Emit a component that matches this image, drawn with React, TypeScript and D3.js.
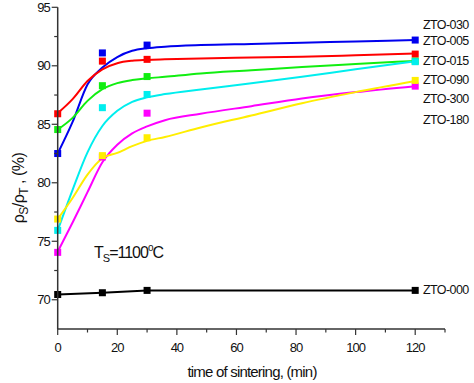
import React from "react"
import * as d3 from "d3"

const WIDTH = 474
const HEIGHT = 383

// sintering times of the measured samples (min)
const SAMPLE_TIMES = [0, 15, 30, 120]
// times at which the fitted curves are read
const FIT_TIMES = [0, 5, 10, 15, 20, 25, 30, 36, 48, 65, 82, 100, 120]

const SERIES_NAMES = ["ZTO-005", "ZTO-030", "ZTO-015", "ZTO-090", "ZTO-180", "ZTO-300"]
const SERIES_COLORS = ["#0000ee", "#ff0000", "#11ee11", "#00eeee", "#ff00ff", "#ffee00"]

// relative density ρS/ρT (%) at each sample time
const MEASURED = [
  [82.5, 91.1, 91.77, 92.2],
  [85.9, 90.4, 90.55, 91.0],
  [84.55, 88.3, 89.08, 90.4],
  [75.93, 86.42, 87.55, 90.35],
  [74.05, 82.2, 85.95, 88.26],
  [76.9, 82.32, 83.85, 88.75],
]

// fitted curves at FIT_TIMES
const FITTED = [
  [82.5, 85.2, 88.4, 89.85, 90.75, 91.28, 91.5, 91.63, 91.77, 91.87, 91.97, 92.08, 92.2],
  [85.95, 87.15, 88.7, 89.7, 90.22, 90.43, 90.5, 90.55, 90.63, 90.7, 90.78, 90.9, 91.05],
  [84.55, 85.55, 87.0, 88.0, 88.52, 88.78, 88.92, 89.06, 89.35, 89.62, 89.9, 90.15, 90.42],
  [75.93, 79.4, 82.6, 84.85, 86.15, 86.92, 87.3, 87.58, 87.98, 88.5, 89.06, 89.7, 90.38],
  [74.1, 76.6, 79.2, 81.75, 83.25, 84.22, 84.82, 85.35, 85.9, 86.55, 87.2, 87.75, 88.26],
  [76.9, 78.7, 80.7, 82.1, 82.55, 83.13, 83.58, 83.92, 84.73, 85.75, 86.8, 87.75, 88.7],
]

// undoped sample, joined point to point
const ZTO000 = [70.45, 70.6, 70.8, 70.8]

// right-hand labels, top to bottom, with their values
const RIGHT_LABELS = ["ZTO-030", "ZTO-005", "ZTO-015", "ZTO-090", "ZTO-300", "ZTO-180"]
const RIGHT_LABEL_VALUES = [93.5, 92.1, 90.4, 88.8, 87.2, 85.4]

const Y_MAJOR = [70, 75, 80, 85, 90, 95]
const Y_MINOR = [72.5, 77.5, 82.5, 87.5, 92.5]
const X_MAJOR = [0, 20, 40, 60, 80, 100, 120]
const X_MINOR = [10, 30, 50, 70, 90, 110, 130]

const FONT = "'Liberation Sans', Arial, sans-serif"

export default function App() {
  const x = d3.scaleLinear().domain([0, 130]).range([57.7, 445])
  const y = d3.scaleLinear().domain([67.5, 95]).range([329, 7.3])

  const line = d3
    .line<[number, number]>()
    .x(d => x(d[0]))
    .y(d => y(d[1]))
    .curve(d3.curveMonotoneX)

  const straight = d3
    .line<[number, number]>()
    .x(d => x(d[0]))
    .y(d => y(d[1]))

  const M = 7

  return (
    <svg
      width={WIDTH}
      height={HEIGHT}
      style={{ position: "absolute", left: 0, top: 0, background: "#fff" }}
      fontFamily={FONT}
    >
      {/* fitted curves */}
      {FITTED.map((vals, i) => (
        <path
          key={"fit" + i}
          d={line(FIT_TIMES.map((t, j) => [t, vals[j]] as [number, number])) || ""}
          fill="none"
          stroke={SERIES_COLORS[i]}
          strokeWidth={2}
        />
      ))}

      {/* measured points */}
      {MEASURED.map((vals, i) => (
        <g key={"pts" + i}>
          {vals.map((v, j) => (
            <rect
              key={j}
              x={x(SAMPLE_TIMES[j]) - M / 2}
              y={y(v) - M / 2}
              width={M}
              height={M}
              fill={SERIES_COLORS[i]}
            />
          ))}
        </g>
      ))}

      {/* ZTO-000 */}
      <path
        d={straight(SAMPLE_TIMES.map((t, j) => [t, ZTO000[j]] as [number, number])) || ""}
        fill="none"
        stroke="#000"
        strokeWidth={2}
      />
      {ZTO000.map((v, j) => (
        <rect
          key={"k" + j}
          x={x(SAMPLE_TIMES[j]) - M / 2}
          y={y(v) - M / 2}
          width={M}
          height={M}
          fill="#000"
        />
      ))}

      {/* axes */}
      <line x1={x(0)} x2={x(0)} y1={y(95)} y2={y(67.5)} stroke="#333" strokeWidth={1.5} />
      <line x1={x(0)} x2={x(130)} y1={y(67.5)} y2={y(67.5)} stroke="#333" strokeWidth={1.5} />
      {Y_MAJOR.map(v => (
        <g key={"ym" + v}>
          <line x1={x(0) - 6} x2={x(0)} y1={y(v)} y2={y(v)} stroke="#333" strokeWidth={1.2} />
          <text
            x={x(0) - 8}
            y={y(v)}
            fontSize={13}
            letterSpacing={-1}
            textAnchor="end"
            dominantBaseline="central"
            fill="#111"
          >
            {v}
          </text>
        </g>
      ))}
      {Y_MINOR.map(v => (
        <line key={"yn" + v} x1={x(0) - 3.5} x2={x(0)} y1={y(v)} y2={y(v)} stroke="#333" strokeWidth={1.2} />
      ))}
      {X_MAJOR.map(t => (
        <g key={"xm" + t}>
          <line x1={x(t)} x2={x(t)} y1={y(67.5)} y2={y(67.5) + 6} stroke="#333" strokeWidth={1.2} />
          <text
            x={x(t)}
            y={y(67.5) + 18}
            fontSize={13}
            letterSpacing={-1}
            textAnchor="middle"
            dominantBaseline="central"
            fill="#111"
          >
            {t}
          </text>
        </g>
      ))}
      {X_MINOR.map(t => (
        <line key={"xn" + t} x1={x(t)} x2={x(t)} y1={y(67.5)} y2={y(67.5) + 3.5} stroke="#333" strokeWidth={1.2} />
      ))}

      {/* axis titles */}
      <text
        x={252}
        y={377}
        fontSize={15}
        letterSpacing={-0.8}
        textAnchor="middle"
        fill="#111"
      >
        time of sintering, (min)
      </text>
      <text
        transform="translate(24, 188) rotate(-90)"
        fontSize={16}
        letterSpacing={-0.5}
        textAnchor="middle"
        fill="#111"
      >
        ρ<tspan fontSize={12} dy={4}>S</tspan>
        <tspan dy={-4}>/ρ</tspan>
        <tspan fontSize={12} dy={4}>T</tspan>
        <tspan dy={-4}> , (%)</tspan>
      </text>

      {/* series labels */}
      {RIGHT_LABELS.map((name, i) => (
        <text
          key={name}
          x={423}
          y={y(RIGHT_LABEL_VALUES[i])}
          fontSize={12.5}
          letterSpacing={-0.6}
          dominantBaseline="central"
          fill="#111"
        >
          {name}
        </text>
      ))}
      <text
        x={423}
        y={y(70.8)}
        fontSize={12.5}
        letterSpacing={-0.6}
        dominantBaseline="central"
        fill="#111"
      >
        ZTO-000
      </text>

      {/* sintering temperature */}
      <text x={94} y={258} fontSize={16} letterSpacing={-1} fill="#111">
        T<tspan fontSize={11} dy={4}>S</tspan>
        <tspan dy={-4}>=1100</tspan>
        <tspan fontSize={10} dy={-7}>o</tspan>
        <tspan dy={7}>C</tspan>
      </text>
    </svg>
  )
}
